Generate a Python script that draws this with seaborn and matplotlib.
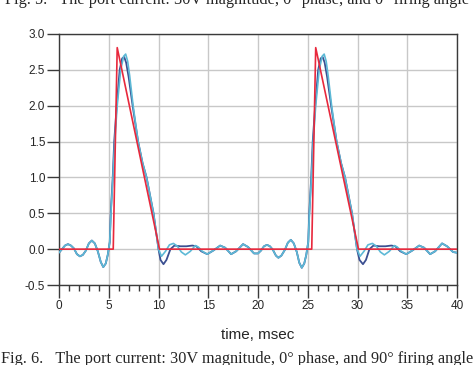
import numpy as np
import pandas as pd
import matplotlib
matplotlib.use("Agg")
import matplotlib.pyplot as plt
import seaborn as sns
from matplotlib.ticker import MultipleLocator, FuncFormatter

# ---------------- data ----------------
red_t = [0.0, 5.45, 5.85, 10.1, 25.4, 25.8, 30.1, 40.0]
red_v = [0.0, 0.0, 2.81, 0.0, 0.0, 2.81, 0.0, 0.0]

dark_t = [0.0, 0.3, 0.6, 0.9, 1.2, 1.5, 1.8, 2.1, 2.4, 2.7, 3.0, 3.3, 3.6, 3.9,
          4.2, 4.45, 4.7, 4.9, 5.1, 5.2, 5.4, 5.55, 5.8, 6.1, 6.35, 6.55, 6.75,
          7.0, 7.4, 7.95, 8.4, 8.8, 9.5, 10.0, 10.2, 10.5, 10.8, 11.2, 11.6,
          12.2, 12.8, 13.4, 13.8, 14.3, 14.9, 15.5, 16.2, 16.7, 17.3, 17.8,
          18.5, 19.0, 19.6,
          20.0, 20.3, 20.6, 20.9, 21.2, 21.5, 21.8, 22.05, 22.35, 22.7, 23.0,
          23.3, 23.6, 23.9, 24.15, 24.4, 24.65, 24.85, 25.05, 25.15, 25.35,
          25.5, 25.75, 26.05, 26.3, 26.5, 26.7, 26.95, 27.35, 27.9, 28.35,
          28.75, 29.45, 29.95, 30.2, 30.55, 30.85, 31.2, 31.6, 32.2, 32.8,
          33.4, 33.8, 34.3, 34.9, 35.5, 36.2, 36.7, 37.3, 37.8, 38.5, 39.0,
          39.6, 40.0]
dark_v = [-0.05, 0.0, 0.05, 0.07, 0.05, 0.01, -0.07, -0.10, -0.08, -0.02, 0.08,
          0.12, 0.08, -0.03, -0.18, -0.25, -0.20, -0.08, 0.10, 0.50, 1.00, 1.50,
          2.00, 2.50, 2.66, 2.68, 2.60, 2.40, 2.00, 1.50, 1.20, 1.00, 0.50,
          0.00, -0.15, -0.21, -0.15, 0.00, 0.05, 0.04, 0.04, 0.05, 0.04, -0.03,
          -0.07, -0.02, 0.05, 0.02, -0.07, -0.03, 0.07, 0.03, -0.06,
          -0.06, -0.02, 0.04, 0.06, 0.04, -0.01, -0.09, -0.12, -0.09, -0.01,
          0.09, 0.13, 0.08, -0.04, -0.19, -0.26, -0.20, -0.08, 0.10, 0.50,
          1.00, 1.50, 2.00, 2.50, 2.66, 2.68, 2.60, 2.40, 2.00, 1.50, 1.20,
          1.00, 0.50, 0.00, -0.15, -0.21, -0.15, 0.00, 0.05, 0.04, 0.04, 0.05,
          0.04, -0.03, -0.07, -0.02, 0.05, 0.02, -0.07, -0.03, 0.08, 0.04,
          -0.04, -0.05]

cyan_t = [0.0, 0.3, 0.6, 0.9, 1.2, 1.5, 1.8, 2.1, 2.4, 2.7, 3.0, 3.3, 3.6, 3.9,
          4.2, 4.45, 4.7, 4.9, 5.1, 5.22, 5.42, 5.6, 5.85, 6.2, 6.5, 6.7, 6.9,
          7.1, 7.45, 7.95, 8.4, 8.8, 9.5, 10.0, 10.3, 10.7, 11.1, 11.5, 11.9,
          12.3, 12.7, 13.2, 13.7, 14.0, 14.4, 14.9, 15.5, 16.2, 16.7, 17.3,
          17.8, 18.5, 19.0, 19.6,
          20.0, 20.3, 20.6, 20.9, 21.2, 21.5, 21.8, 22.05, 22.35, 22.7, 23.0,
          23.3, 23.6, 23.9, 24.15, 24.4, 24.65, 24.85, 25.05, 25.17, 25.37,
          25.55, 25.8, 26.15, 26.45, 26.65, 26.85, 27.05, 27.4, 27.9, 28.35,
          28.75, 29.45, 29.95, 30.25, 30.65, 31.05, 31.5, 31.9, 32.3, 32.7,
          33.2, 33.7, 34.0, 34.4, 34.9, 35.5, 36.2, 36.7, 37.3, 37.8, 38.5,
          39.0, 39.6, 40.0]
cyan_v = [-0.05, 0.0, 0.05, 0.07, 0.05, 0.01, -0.07, -0.10, -0.08, -0.02, 0.08,
          0.12, 0.08, -0.03, -0.18, -0.25, -0.20, -0.08, 0.10, 0.50, 1.00, 1.50,
          2.00, 2.50, 2.69, 2.72, 2.62, 2.42, 2.00, 1.50, 1.20, 1.00, 0.50,
          0.00, -0.10, -0.03, 0.06, 0.08, 0.04, -0.04, -0.08, -0.03, 0.05,
          0.03, -0.03, -0.07, -0.02, 0.05, 0.02, -0.07, -0.03, 0.07, 0.03,
          -0.06,
          -0.06, -0.02, 0.04, 0.06, 0.04, -0.01, -0.09, -0.12, -0.09, -0.01,
          0.09, 0.13, 0.08, -0.04, -0.19, -0.26, -0.20, -0.08, 0.10, 0.50,
          1.00, 1.50, 2.00, 2.50, 2.69, 2.72, 2.62, 2.42, 2.00, 1.50, 1.20,
          1.00, 0.50, 0.00, -0.10, -0.03, 0.06, 0.08, 0.04, -0.04, -0.08,
          -0.03, 0.05, 0.03, -0.03, -0.07, -0.02, 0.05, 0.02, -0.07, -0.03,
          0.08, 0.04, -0.04, -0.05]

x_label = "time, msec"
caption_bottom = "Fig. 6.   The port current: 30V magnitude, 0° phase, and 90° firing angle"
caption_top = "Fig. 5.   The port current: 30V magnitude, 0° phase, and 0° firing angle"

# ---------------- style ----------------
sns.set_style("white")
plt.rcParams['font.family'] = ['Liberation Sans', 'DejaVu Sans']

fig = plt.figure(figsize=(4.74, 3.65), dpi=100)
ax = fig.add_axes([59/474, 1 - 285/365, (457 - 59)/474, (285 - 34)/365])

df_dark = pd.DataFrame({"t": dark_t, "v": dark_v})
df_cyan = pd.DataFrame({"t": cyan_t, "v": cyan_v})
df_red = pd.DataFrame({"t": red_t, "v": red_v})

sns.lineplot(data=df_dark, x="t", y="v", ax=ax, color="#3b4f91", lw=1.3,
             estimator=None, sort=False, legend=False, zorder=3)
sns.lineplot(data=df_cyan, x="t", y="v", ax=ax, color="#5db9d6", lw=1.2,
             estimator=None, sort=False, legend=False, zorder=4)
sns.lineplot(data=df_red, x="t", y="v", ax=ax, color="#e8283c", lw=1.2,
             estimator=None, sort=False, legend=False, zorder=5)

ax.set_xlim(0, 40)
ax.set_ylim(-0.5, 3.0)
ax.xaxis.set_major_locator(MultipleLocator(5))
ax.xaxis.set_minor_locator(MultipleLocator(1))
ax.yaxis.set_major_locator(MultipleLocator(0.5))
ax.yaxis.set_major_formatter(FuncFormatter(lambda v, p: f"{round(v, 1):.1f}"))
ax.xaxis.set_major_formatter(FuncFormatter(lambda v, p: f"{int(round(v))}"))

ax.grid(True, which="major", color="#c8c8c8", lw=1.0)
for s in ax.spines.values():
    s.set_color("#3a3a3a")
    s.set_linewidth(1.0)
    s.set_visible(True)

ax.tick_params(axis="x", which="major", direction="out", length=9, width=1,
               color="#3a3a3a", labelsize=8.5, pad=2, bottom=True)
ax.tick_params(axis="x", which="minor", direction="out", length=4.5, width=1,
               color="#3a3a3a", bottom=True)
ax.tick_params(axis="y", which="major", direction="out", length=9, width=1,
               color="#3a3a3a", labelsize=8.5, pad=1, left=True)
ax.set_xlabel(x_label, fontsize=11, labelpad=11)
ax.set_ylabel("")

fig.text(0.5, 2/365, caption_bottom, ha="center", va="baseline",
         fontsize=11.7, family=["Liberation Serif", "DejaVu Serif"])
fig.text(0.5, 1 - 4/365, caption_top, ha="center", va="baseline",
         fontsize=11.7, family=["Liberation Serif", "DejaVu Serif"])

fig.savefig("out.png", dpi=100)
